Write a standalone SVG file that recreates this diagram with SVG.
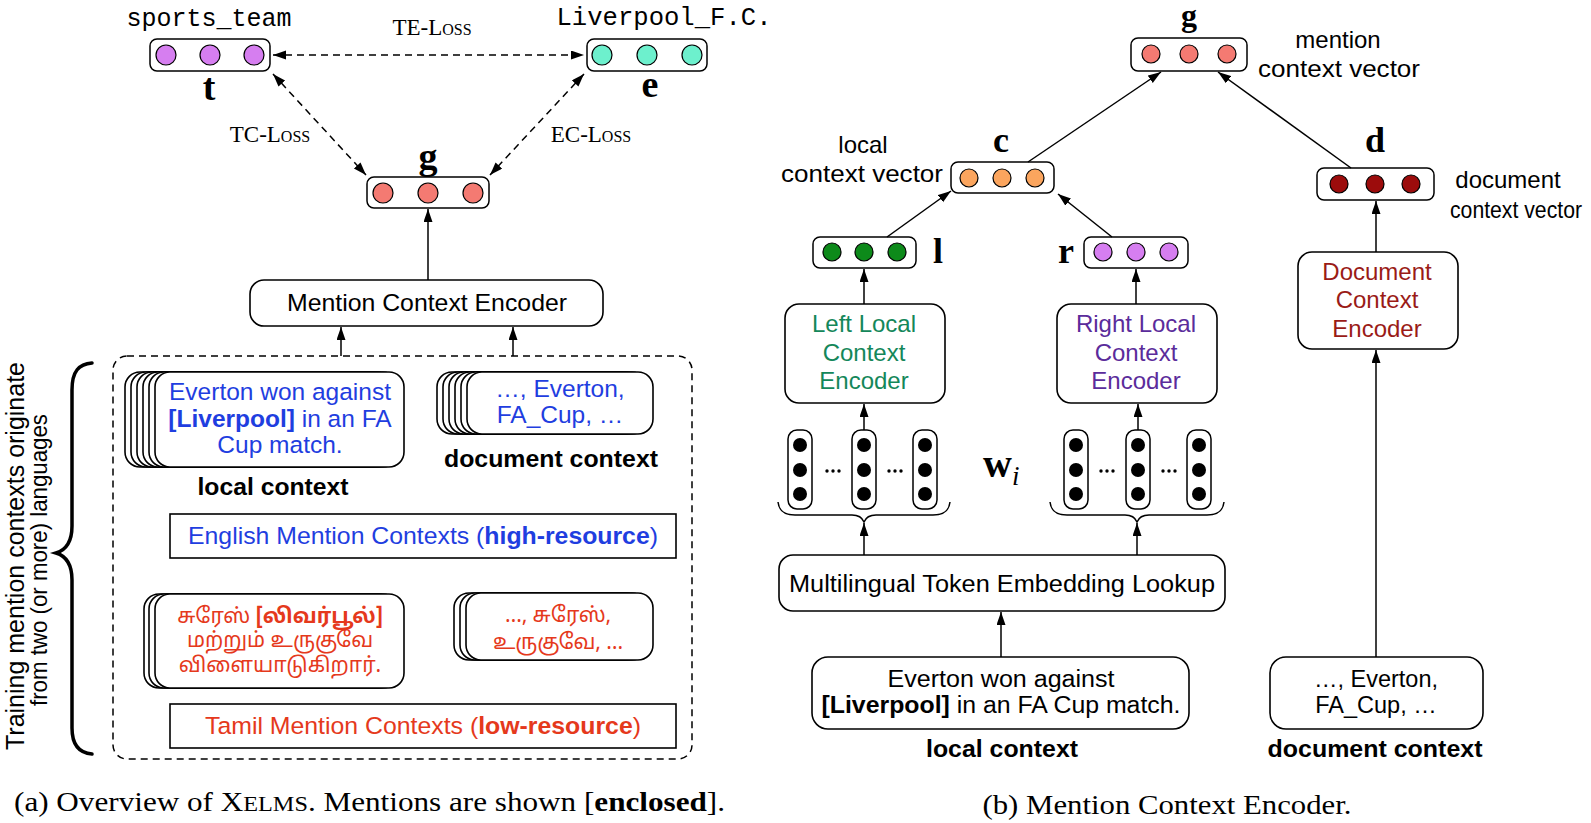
<svg xmlns="http://www.w3.org/2000/svg" width="1591" height="823" viewBox="0 0 1591 823">
<style>
.sans{font-family:"Liberation Sans",Arial,sans-serif;}
.serif{font-family:"Liberation Serif","Times New Roman",serif;}
.mono{font-family:"Liberation Mono","Courier New",monospace;}
.tam{font-family:"Noto Sans Tamil","Lohit Tamil","Noto Sans","Liberation Sans",sans-serif;}
.box{fill:#fff;stroke:#000;stroke-width:1.6;}
.vec{fill:#fff;stroke:#000;stroke-width:1.5;}
.dot{stroke:#000;stroke-width:1.2;}
.line{stroke:#000;stroke-width:1.5;fill:none;}
.dash{stroke:#000;stroke-width:1.5;fill:none;stroke-dasharray:7 5;}
.blue{fill:#1f3ee0;}
.red{fill:#e5391c;}
.green{fill:#14875a;}
.purple{fill:#5b2c9b;}
.dred{fill:#9a1b17;}
.bold{font-weight:bold;}
.sc{font-variant:small-caps;}
</style>
<defs>
<marker id="ah" markerUnits="userSpaceOnUse" markerWidth="14" markerHeight="10" refX="13" refY="4.5" orient="auto-start-reverse" viewBox="0 0 14 10">
<path d="M0,0 L13,4.5 L0,9 z" fill="#000"/>
</marker>
</defs>

<!-- ===== LEFT PANEL ===== -->
<g id="t-vector">
<text class="mono" x="209" y="26" font-size="26" text-anchor="middle" textLength="165" lengthAdjust="spacingAndGlyphs">sports_team</text>
<rect class="vec" x="150" y="39" width="120" height="32" rx="7"/>
<circle class="dot" cx="166" cy="55" r="10" fill="#d67ef0"/>
<circle class="dot" cx="210" cy="55" r="10" fill="#d67ef0"/>
<circle class="dot" cx="254" cy="55" r="10" fill="#d67ef0"/>
<text class="serif bold" x="209" y="100" font-size="38" text-anchor="middle">t</text>
</g>
<g id="e-vector">
<text class="mono" x="664" y="25" font-size="26" text-anchor="middle" textLength="215" lengthAdjust="spacingAndGlyphs">Liverpool_F.C.</text>
<rect class="vec" x="587" y="39" width="120" height="32" rx="7"/>
<circle class="dot" cx="602" cy="55" r="10" fill="#6df0cd"/>
<circle class="dot" cx="647" cy="55" r="10" fill="#6df0cd"/>
<circle class="dot" cx="692" cy="55" r="10" fill="#6df0cd"/>
<text class="serif bold" x="650" y="97" font-size="38" text-anchor="middle">e</text>
</g>
<g id="g-vector-left">
<text class="serif bold" x="428" y="169" font-size="38" text-anchor="middle">g</text>
<rect class="vec" x="367" y="177" width="122" height="31" rx="7"/>
<circle class="dot" cx="383" cy="193" r="10" fill="#f47a72"/>
<circle class="dot" cx="428" cy="193" r="10" fill="#f47a72"/>
<circle class="dot" cx="473" cy="193" r="10" fill="#f47a72"/>
</g>
<g id="loss-labels">
<text class="serif sc" x="432" y="35" font-size="23" text-anchor="middle">TE-Loss</text>
<text class="serif sc" x="270" y="142" font-size="23" text-anchor="middle">TC-Loss</text>
<text class="serif sc" x="591" y="142" font-size="23" text-anchor="middle">EC-Loss</text>
</g>
<g id="mention-context-encoder">
<rect class="box" x="250" y="280" width="353" height="46" rx="14"/>
<text class="sans" x="427" y="311" font-size="24" text-anchor="middle" textLength="280" lengthAdjust="spacingAndGlyphs">Mention Context Encoder</text>
</g>
<g id="training-contexts">
<rect x="113" y="356" width="579" height="403" rx="14" class="dash"/>
<path d="M92 363 C79 364 72 371 72 390 L72 526 C72 542 66 550 56 553 C66 556 72 564 72 580 L72 728 C72 745 79 753 92 754" fill="none" stroke="#000" stroke-width="3.5" stroke-linecap="round"/>
<text class="sans" transform="translate(24,556) rotate(-90)" font-size="25" text-anchor="middle" textLength="388" lengthAdjust="spacingAndGlyphs">Training mention contexts originate</text>
<text class="sans" transform="translate(47,560) rotate(-90)" font-size="24" text-anchor="middle" textLength="292" lengthAdjust="spacingAndGlyphs">from two (or more) languages</text>
</g>
<g id="english-local-context">
<rect class="box" x="125" y="372" width="249" height="95" rx="15"/>
<rect class="box" x="131" y="372" width="249" height="95" rx="15"/>
<rect class="box" x="137" y="372" width="249" height="95" rx="15"/>
<rect class="box" x="143" y="372" width="249" height="95" rx="15"/>
<rect class="box" x="149" y="372" width="249" height="95" rx="15"/>
<rect class="box" x="155" y="372" width="249" height="95" rx="15"/>
<text class="sans blue" x="280" y="400" font-size="24.5" text-anchor="middle">Everton won against</text>
<text class="sans blue" x="280" y="427" font-size="24.5" text-anchor="middle"><tspan class="bold">[Liverpool]</tspan> in an FA</text>
<text class="sans blue" x="280" y="453" font-size="24.5" text-anchor="middle">Cup match.</text>
<text class="sans bold" x="273" y="495" font-size="24.5" text-anchor="middle" textLength="151" lengthAdjust="spacingAndGlyphs">local context</text>
</g>
<g id="english-document-context">
<rect class="box" x="437" y="372" width="186" height="62" rx="15"/>
<rect class="box" x="443" y="372" width="186" height="62" rx="15"/>
<rect class="box" x="449" y="372" width="186" height="62" rx="15"/>
<rect class="box" x="455" y="372" width="186" height="62" rx="15"/>
<rect class="box" x="461" y="372" width="186" height="62" rx="15"/>
<rect class="box" x="467" y="372" width="186" height="62" rx="15"/>
<text class="sans blue" x="560" y="397" font-size="24.5" text-anchor="middle">…, Everton,</text>
<text class="sans blue" x="560" y="423" font-size="24.5" text-anchor="middle">FA_Cup, …</text>
<text class="sans bold" x="551" y="467" font-size="24.5" text-anchor="middle" textLength="214" lengthAdjust="spacingAndGlyphs">document context</text>
</g>
<g id="english-label">
<rect class="box" x="170" y="514" width="506" height="44"/>
<text class="sans blue" x="423" y="544" font-size="24.5" text-anchor="middle" textLength="470" lengthAdjust="spacingAndGlyphs">English Mention Contexts (<tspan class="bold">high-resource</tspan>)</text>
</g>
<g id="tamil-local-context">
<rect class="box" x="144" y="594" width="249" height="94" rx="15"/>
<rect class="box" x="149" y="594" width="249" height="94" rx="15"/>
<rect class="box" x="155" y="594" width="249" height="94" rx="15"/>
<text class="tam red" x="280" y="623" font-size="21" text-anchor="middle">சுரேஸ் <tspan class="bold">[லிவர்பூல்]</tspan></text>
<text class="tam red" x="280" y="647" font-size="21" text-anchor="middle">மற்றும் உருகுவே</text>
<text class="tam red" x="280" y="672" font-size="21" text-anchor="middle">விளையாடுகிறார்.</text>
</g>
<g id="tamil-document-context">
<rect class="box" x="454" y="593" width="187" height="67" rx="15"/>
<rect class="box" x="460" y="593" width="187" height="67" rx="15"/>
<rect class="box" x="466" y="593" width="187" height="67" rx="15"/>
<text class="tam red" x="558" y="622" font-size="21" text-anchor="middle">…, சுரேஸ்,</text>
<text class="tam red" x="558" y="649" font-size="21" text-anchor="middle">உருகுவே, …</text>
</g>
<g id="tamil-label">
<rect class="box" x="170" y="704" width="506" height="44"/>
<text class="sans red" x="423" y="734" font-size="24.5" text-anchor="middle" textLength="436" lengthAdjust="spacingAndGlyphs">Tamil Mention Contexts (<tspan class="bold">low-resource</tspan>)</text>
</g>
<g id="caption-a">
<text class="serif" x="14" y="811" font-size="27" textLength="711" lengthAdjust="spacingAndGlyphs">(a) Overview of X<tspan font-size="21">ELMS</tspan>. Mentions are shown [<tspan class="bold">enclosed</tspan>].</text>
</g>

<!-- ===== RIGHT PANEL ===== -->
<g id="g-vector-right">
<text class="serif bold" x="1189" y="26" font-size="32" text-anchor="middle">g</text>
<rect class="vec" x="1131" y="38" width="116" height="33" rx="7"/>
<circle class="dot" cx="1151" cy="54" r="9" fill="#f47a72"/>
<circle class="dot" cx="1189" cy="54" r="9" fill="#f47a72"/>
<circle class="dot" cx="1227" cy="54" r="9" fill="#f47a72"/>
<text class="sans" x="1338" y="48" font-size="24" text-anchor="middle">mention</text>
<text class="sans" x="1339" y="77" font-size="24" text-anchor="middle" textLength="162" lengthAdjust="spacingAndGlyphs">context vector</text>
</g>
<g id="c-vector">
<text class="serif bold" x="1001" y="152" font-size="36" text-anchor="middle">c</text>
<rect class="vec" x="951" y="162" width="103" height="31" rx="7"/>
<circle class="dot" cx="969" cy="178" r="9" fill="#fba55e"/>
<circle class="dot" cx="1002" cy="178" r="9" fill="#fba55e"/>
<circle class="dot" cx="1035" cy="178" r="9" fill="#fba55e"/>
<text class="sans" x="863" y="153" font-size="24" text-anchor="middle">local</text>
<text class="sans" x="862" y="182" font-size="24" text-anchor="middle" textLength="162" lengthAdjust="spacingAndGlyphs">context vector</text>
</g>
<g id="d-vector">
<text class="serif bold" x="1375" y="152" font-size="36" text-anchor="middle">d</text>
<rect class="vec" x="1317" y="168" width="117" height="32" rx="7"/>
<circle class="dot" cx="1339" cy="184" r="9" fill="#9c0c0c"/>
<circle class="dot" cx="1375" cy="184" r="9" fill="#9c0c0c"/>
<circle class="dot" cx="1411" cy="184" r="9" fill="#9c0c0c"/>
<text class="sans" x="1508" y="188" font-size="24" text-anchor="middle">document</text>
<text class="sans" x="1450" y="218" font-size="23" textLength="132" lengthAdjust="spacingAndGlyphs">context vector</text>
</g>
<g id="l-vector">
<rect class="vec" x="813" y="237" width="103" height="31" rx="7"/>
<circle class="dot" cx="832" cy="252" r="9" fill="#0d8a1a"/>
<circle class="dot" cx="864" cy="252" r="9" fill="#0d8a1a"/>
<circle class="dot" cx="897" cy="252" r="9" fill="#0d8a1a"/>
<text class="serif bold" x="938" y="263" font-size="36" text-anchor="middle">l</text>
</g>
<g id="r-vector">
<rect class="vec" x="1084" y="237" width="104" height="31" rx="7"/>
<circle class="dot" cx="1103" cy="252" r="9" fill="#d67ef0"/>
<circle class="dot" cx="1136" cy="252" r="9" fill="#d67ef0"/>
<circle class="dot" cx="1169" cy="252" r="9" fill="#d67ef0"/>
<text class="serif bold" x="1066" y="263" font-size="36" text-anchor="middle">r</text>
</g>
<g id="left-local-encoder">
<rect class="box" x="785" y="304" width="160" height="99" rx="14"/>
<text class="sans green" x="864" y="332" font-size="24" text-anchor="middle">Left Local</text>
<text class="sans green" x="864" y="361" font-size="24" text-anchor="middle">Context</text>
<text class="sans green" x="864" y="389" font-size="24" text-anchor="middle">Encoder</text>
</g>
<g id="right-local-encoder">
<rect class="box" x="1057" y="304" width="160" height="99" rx="14"/>
<text class="sans purple" x="1136" y="332" font-size="24" text-anchor="middle">Right Local</text>
<text class="sans purple" x="1136" y="361" font-size="24" text-anchor="middle">Context</text>
<text class="sans purple" x="1136" y="389" font-size="24" text-anchor="middle">Encoder</text>
</g>
<g id="document-context-encoder">
<rect class="box" x="1298" y="252" width="160" height="97" rx="14"/>
<text class="sans dred" x="1377" y="280" font-size="24" text-anchor="middle">Document</text>
<text class="sans dred" x="1377" y="308" font-size="24" text-anchor="middle">Context</text>
<text class="sans dred" x="1377" y="337" font-size="24" text-anchor="middle">Encoder</text>
</g>
<g id="left-tokens">
<rect class="vec" x="788" y="430" width="24" height="79" rx="9"/>
<rect class="vec" x="852" y="430" width="24" height="79" rx="9"/>
<rect class="vec" x="913" y="430" width="24" height="79" rx="9"/>
<g fill="#000">
<circle cx="800" cy="445" r="7"/><circle cx="800" cy="470" r="7"/><circle cx="800" cy="494" r="7"/>
<circle cx="864" cy="445" r="7"/><circle cx="864" cy="470" r="7"/><circle cx="864" cy="494" r="7"/>
<circle cx="925" cy="445" r="7"/><circle cx="925" cy="470" r="7"/><circle cx="925" cy="494" r="7"/>
<circle cx="827" cy="471" r="1.7"/><circle cx="833" cy="471" r="1.7"/><circle cx="839" cy="471" r="1.7"/>
<circle cx="889" cy="471" r="1.7"/><circle cx="895" cy="471" r="1.7"/><circle cx="901" cy="471" r="1.7"/>
</g>
<path class="line" stroke-width="2" d="M778 502 C779 511 784 515 795 515 L852 515 C858 515 862 517 864 522 C866 517 870 515 876 515 L933 515 C944 515 949 511 950 502"/>
</g>
<g id="word-embedding-label">
<text class="serif bold" x="983" y="477" font-size="40">w<tspan font-weight="normal" font-style="italic" font-size="27" dy="8">i</tspan></text>
</g>
<g id="right-tokens">
<rect class="vec" x="1064" y="430" width="24" height="79" rx="9"/>
<rect class="vec" x="1126" y="430" width="24" height="79" rx="9"/>
<rect class="vec" x="1187" y="430" width="24" height="79" rx="9"/>
<g fill="#000">
<circle cx="1076" cy="445" r="7"/><circle cx="1076" cy="470" r="7"/><circle cx="1076" cy="494" r="7"/>
<circle cx="1138" cy="445" r="7"/><circle cx="1138" cy="470" r="7"/><circle cx="1138" cy="494" r="7"/>
<circle cx="1199" cy="445" r="7"/><circle cx="1199" cy="470" r="7"/><circle cx="1199" cy="494" r="7"/>
<circle cx="1101" cy="471" r="1.7"/><circle cx="1107" cy="471" r="1.7"/><circle cx="1113" cy="471" r="1.7"/>
<circle cx="1163" cy="471" r="1.7"/><circle cx="1169" cy="471" r="1.7"/><circle cx="1175" cy="471" r="1.7"/>
</g>
<path class="line" stroke-width="2" d="M1050 502 C1051 511 1056 515 1067 515 L1125 515 C1131 515 1135 517 1137 522 C1139 517 1143 515 1149 515 L1207 515 C1218 515 1223 511 1224 502"/>
</g>
<g id="token-embedding-lookup">
<rect class="box" x="779" y="555" width="446" height="56" rx="14"/>
<text class="sans" x="1002" y="592" font-size="23.5" text-anchor="middle" textLength="426" lengthAdjust="spacingAndGlyphs">Multilingual Token Embedding Lookup</text>
</g>
<g id="right-local-context">
<rect class="box" x="812" y="657" width="377" height="72" rx="16"/>
<text class="sans" x="1001" y="687" font-size="23.5" text-anchor="middle" textLength="227" lengthAdjust="spacingAndGlyphs">Everton won against</text>
<text class="sans" x="1001" y="713" font-size="23.5" text-anchor="middle" textLength="359" lengthAdjust="spacingAndGlyphs"><tspan class="bold">[Liverpool]</tspan> in an FA Cup match.</text>
<text class="sans bold" x="1002" y="757" font-size="24.5" text-anchor="middle" textLength="152" lengthAdjust="spacingAndGlyphs">local context</text>
</g>
<g id="right-document-context">
<rect class="box" x="1270" y="657" width="213" height="72" rx="16"/>
<text class="sans" x="1376" y="687" font-size="23.5" text-anchor="middle">…, Everton,</text>
<text class="sans" x="1376" y="713" font-size="23.5" text-anchor="middle">FA_Cup, …</text>
<text class="sans bold" x="1375" y="757" font-size="24.5" text-anchor="middle" textLength="215" lengthAdjust="spacingAndGlyphs">document context</text>
</g>
<g id="caption-b">
<text class="serif" x="1167" y="814" font-size="27" text-anchor="middle" textLength="369" lengthAdjust="spacingAndGlyphs">(b) Mention Context Encoder.</text>
</g>

<!-- ===== CONNECTORS ===== -->
<g id="connectors">
<line class="dash" x1="273" y1="55" x2="584" y2="55" marker-start="url(#ah)" marker-end="url(#ah)"/>
<line class="dash" x1="273" y1="74" x2="366" y2="175" marker-start="url(#ah)" marker-end="url(#ah)"/>
<line class="dash" x1="584" y1="74" x2="490" y2="175" marker-start="url(#ah)" marker-end="url(#ah)"/>
<line class="line" x1="428" y1="280" x2="428" y2="209" marker-end="url(#ah)"/>
<line class="line" x1="341" y1="356" x2="341" y2="327" marker-end="url(#ah)"/>
<line class="line" x1="513" y1="356" x2="513" y2="327" marker-end="url(#ah)"/>

<line class="line" x1="1028" y1="162" x2="1161" y2="72" marker-end="url(#ah)"/>
<line class="line" x1="1351" y1="168" x2="1218" y2="72" marker-end="url(#ah)"/>
<line class="line" x1="887" y1="237" x2="951" y2="191" marker-end="url(#ah)"/>
<line class="line" x1="1112" y1="237" x2="1058" y2="194" marker-end="url(#ah)"/>
<line class="line" x1="1376" y1="252" x2="1376" y2="201" marker-end="url(#ah)"/>
<line class="line" x1="864" y1="304" x2="864" y2="269" marker-end="url(#ah)"/>
<line class="line" x1="1136" y1="304" x2="1136" y2="269" marker-end="url(#ah)"/>
<line class="line" x1="864" y1="430" x2="864" y2="404" marker-end="url(#ah)"/>
<line class="line" x1="1138" y1="430" x2="1138" y2="404" marker-end="url(#ah)"/>
<line class="line" x1="864" y1="555" x2="864" y2="523" marker-end="url(#ah)"/>
<line class="line" x1="1137" y1="555" x2="1137" y2="523" marker-end="url(#ah)"/>
<line class="line" x1="1001" y1="657" x2="1001" y2="612" marker-end="url(#ah)"/>
<line class="line" x1="1376" y1="657" x2="1376" y2="350" marker-end="url(#ah)"/>
</g>
</svg>
